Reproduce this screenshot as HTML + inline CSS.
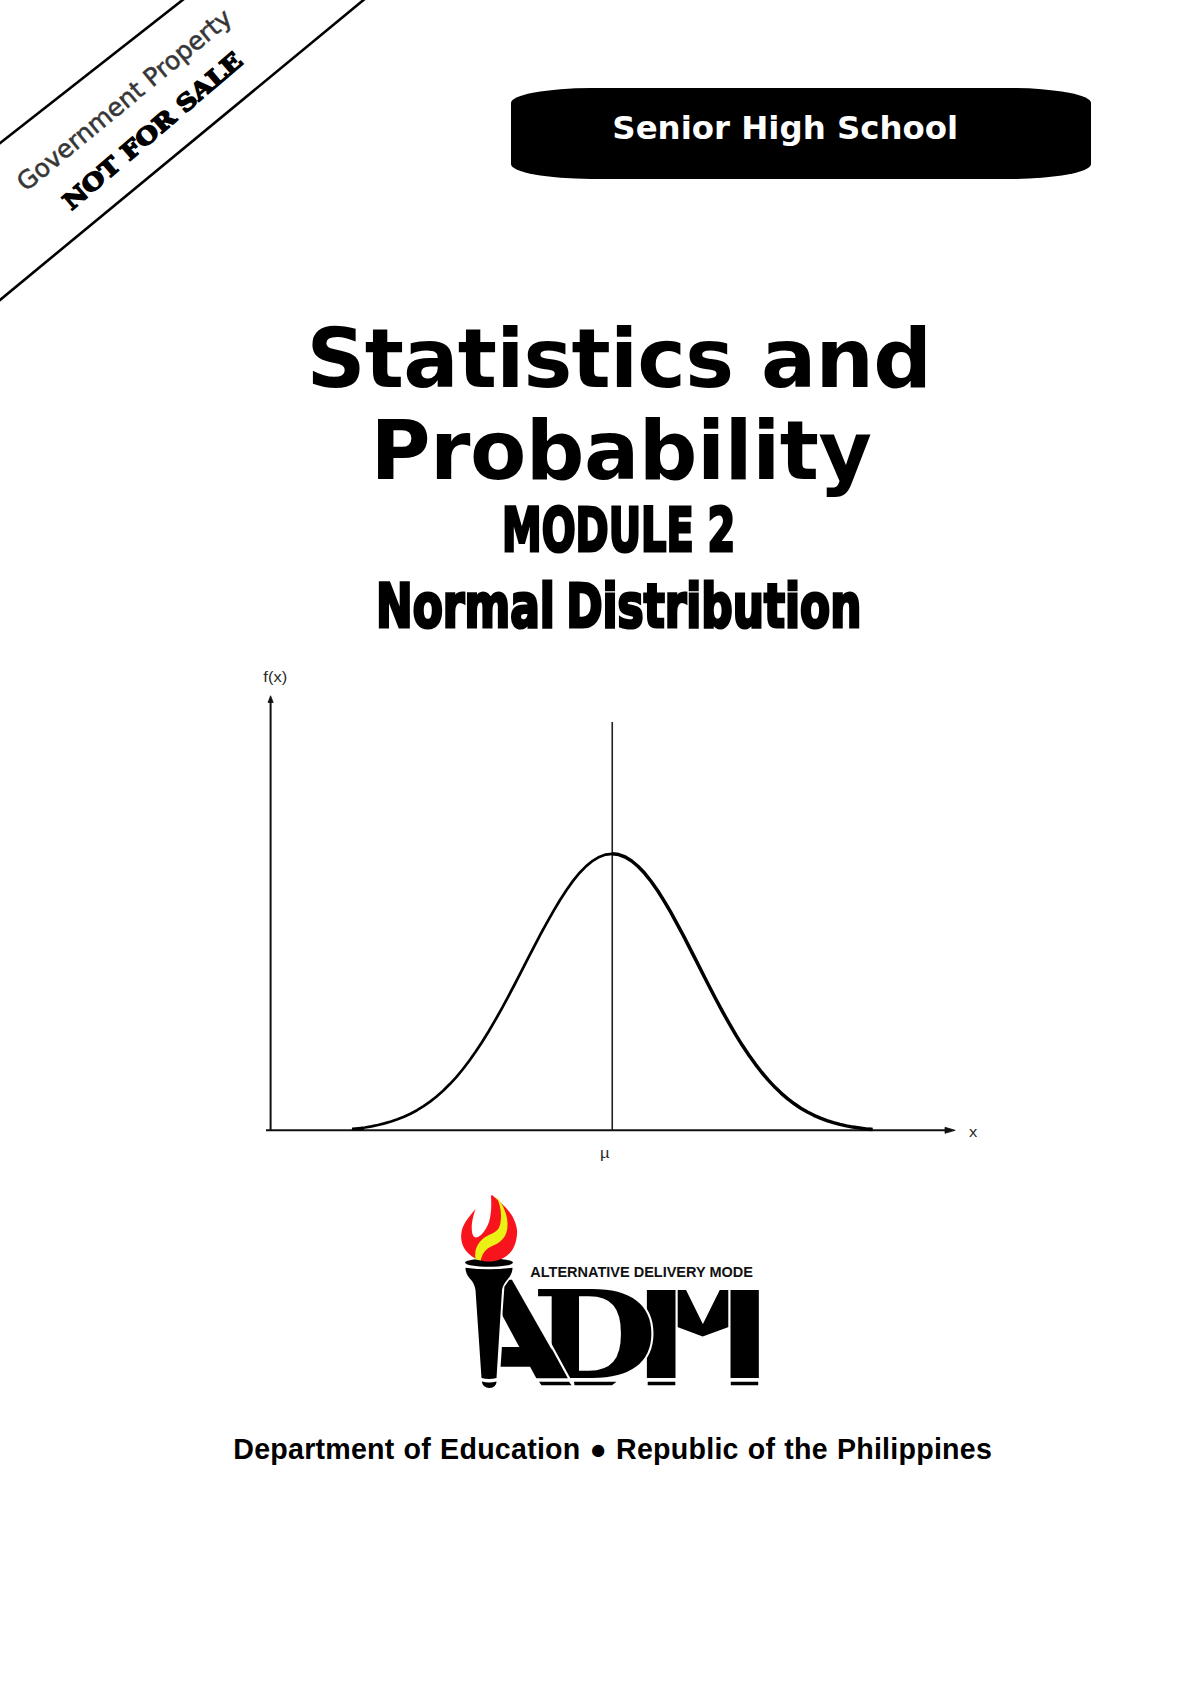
<!DOCTYPE html>
<html lang="en">
<head>
<meta charset="utf-8">
<title>Statistics and Probability - Module 2</title>
<style>
html,body{margin:0;padding:0;background:#fff;}
body{width:1200px;height:1698px;position:relative;overflow:hidden;font-family:"Liberation Sans",sans-serif;color:#000;}
.abs{position:absolute;white-space:nowrap;}
#bg{position:absolute;left:0;top:0;width:1200px;height:1698px;}
#pill{left:511px;top:87.5px;width:579.5px;height:91.2px;background:#000;border-radius:80px / 15px;}
#shs{left:612.3px;top:108.8px;font:bold 32.4px/38px "DejaVu Sans","Liberation Sans",sans-serif;color:#fff;}
.title{font:bold 82px/92px "DejaVu Sans","Liberation Sans",sans-serif;}
#t1{left:306.5px;top:313.3px;letter-spacing:-0.77px;}
#t2{left:370.4px;top:405.3px;letter-spacing:-0.5px;}
.imp{left:0;top:0;font:bold 56px/60px "DejaVu Sans","Liberation Sans",sans-serif;-webkit-text-stroke:3px #000;paint-order:stroke fill;transform-origin:0 0;}
#m1{transform:translate(502px,498.5px) scale(0.712,1.08);}
#m2{transform:translate(376px,574px) scale(0.7833,1.08);word-spacing:-5px;}
#dep{left:233.3px;top:1432.3px;font:bold 28.6px/34px "Liberation Sans",sans-serif;letter-spacing:0.24px;word-spacing:0.85px;}
</style>
</head>
<body>
<svg id="bg" viewBox="0 0 1200 1698" width="1200" height="1698">
  <!-- corner ribbon -->
  <line x1="-2" y1="144.6" x2="184.5" y2="-1.5" stroke="#000" stroke-width="2.6"/>
  <line x1="-2" y1="301.6" x2="365.3" y2="-1.5" stroke="#000" stroke-width="2.6"/>
  <text transform="translate(25.7,192.3) rotate(-39.5)" font-family="'DejaVu Sans','Liberation Sans',sans-serif" font-size="25" fill="#333" stroke="#444" stroke-width="0.6">Government Property</text>
  <text transform="translate(71.5,211) rotate(-40.6) scale(1.15,1)" font-family="'DejaVu Serif','Liberation Serif',serif" font-weight="bold" font-size="23" fill="#000" stroke="#000" stroke-width="1.5">NOT FOR SALE</text>

  <!-- chart -->
  <g id="chart" fill="none" stroke="#111">
    <line x1="270.6" y1="1131" x2="270.6" y2="699" stroke-width="2"/>
    <path d="M268 702.5 L273.2 702.5 L270.6 695.8 Z" fill="#111" stroke-width="0.8"/>
    <line x1="266" y1="1130.3" x2="948" y2="1130.3" stroke-width="1.9"/>
    <path d="M945 1127.3 L945 1133.3 L955.2 1130.3 Z" fill="#111" stroke-width="0.8"/>
    <line x1="612.25" y1="722" x2="612.25" y2="1130" stroke="#222" stroke-width="1.6"/>
    <path d="M352.0 1129.2 L358.5 1128.4 L365.0 1127.5 L371.5 1126.4 L378.0 1125.0 L384.5 1123.4 L391.0 1121.5 L397.5 1119.3 L404.0 1116.7 L410.5 1113.7 L417.1 1110.2 L423.6 1106.2 L430.1 1101.6 L436.6 1096.5 L443.1 1090.8 L449.6 1084.3 L456.1 1077.3 L462.6 1069.5 L469.1 1061.0 L475.6 1051.8 L482.1 1042.0 L488.6 1031.5 L495.1 1020.4 L501.6 1008.8 L508.1 996.8 L514.6 984.5 L521.1 971.9 L527.6 959.2 L534.1 946.6 L540.6 934.2 L547.2 922.1 L553.7 910.6 L560.2 899.7 L566.7 889.7 L573.2 880.6 L579.7 872.7 L586.2 866.1 L592.7 860.8 L599.2 856.9 L605.7 854.6 L612.2 853.8" stroke="#000" stroke-width="2.7" stroke-linejoin="round"/>
    <path d="M612.2 853.8 L618.7 854.6 L625.2 857.0 L631.7 861.0 L638.2 866.5 L644.7 873.3 L651.2 881.5 L657.7 890.8 L664.2 901.1 L670.7 912.2 L677.2 924.1 L683.8 936.4 L690.3 949.1 L696.8 961.9 L703.3 974.8 L709.8 987.5 L716.3 1000.0 L722.8 1012.1 L729.3 1023.7 L735.8 1034.8 L742.3 1045.3 L748.8 1055.0 L755.3 1064.1 L761.8 1072.5 L768.3 1080.1 L774.8 1087.1 L781.3 1093.3 L787.8 1098.9 L794.3 1103.8 L800.8 1108.2 L807.4 1112.0 L813.9 1115.3 L820.4 1118.1 L826.9 1120.6 L833.4 1122.6 L839.9 1124.4 L846.4 1125.9 L852.9 1127.1 L859.4 1128.1 L865.9 1129.0 L872.4 1129.6" stroke="#000" stroke-width="3.5" stroke-linejoin="round"/>
    <path d="M352 1129 L364 1129 M860 1129 L872.5 1129" stroke="#000" stroke-width="2.4"/>
  </g>
  <g font-family="'Liberation Sans',sans-serif" font-size="14.5" fill="#2a2a2a">
    <text transform="translate(263.3,682) scale(1.14,1)">f(x)</text>
    <text transform="translate(969,1136.7) scale(1.14,1)">x</text>
    <text transform="translate(600,1158.2) scale(1.14,1)">µ</text>
  </g>

  <!-- ADM logo -->
  <g id="logo">
    <ellipse cx="489" cy="1262.6" rx="24" ry="4.2" fill="#000"/>
    <path fill="#f8141c" d="M492 1195 C497 1199 506 1207 510 1212.75 C514 1218 517 1226 517.1 1231.5 C517.2 1240 514 1248 511.5 1251 C507 1257 500 1261 491 1261.5 C482 1262 474 1259 468 1253 C463 1248 460.5 1241 461.25 1234 C462 1225 468 1218 475.5 1209 C473 1216 471.5 1224 471.75 1228.5 C472 1234 473 1237.5 476 1237.5 C481 1237 486 1230 489 1222 C491.5 1214 491.5 1204 491 1196 Z"/>
    <path fill="#e9f115" d="M496.5 1197 C500 1200 504 1207 506.25 1215 C508 1221 508 1228 506.25 1233 C504 1239 499 1243 494.25 1245 C489 1247 485 1250 483 1254 C481.5 1257 481 1259 480.75 1260.5 L475.5 1259.5 C475 1256 475 1253 475.5 1251 C476.5 1246 480 1240.5 484.5 1237.5 C489 1234.5 495 1233 498 1229.25 C500.5 1226 501 1220 501 1215 C501 1209 499 1202 496.5 1197 Z"/>
    <path fill="#000" d="M465.5 1267.7 Q489 1270.7 512.5 1267.7 C512.6 1273.5 509 1278 505.5 1282 C503.5 1285 502.5 1287 502 1290 L496.5 1378 Q489 1380 481.5 1378 L475.5 1290 C475 1287 474 1284 472 1281 C468.5 1277 465.4 1273.5 465.5 1267.7 Z"/>
    <path fill="#000" d="M482 1381.5 Q489 1383.5 496.5 1381.5 C496.5 1385 494 1388 489.5 1388 C485 1388 482 1385 482 1381.5 Z"/>
    <text x="530.3" y="1277.2" font-family="'Liberation Sans',sans-serif" font-weight="bold" font-size="14.5" fill="#111">ALTERNATIVE DELIVERY MODE</text>
    <defs><clipPath id="acut"><path d="M510.5 1278 L504.4 1286.7 L502.6 1311.7 L501.8 1348.75 L499.8 1378.3 L600 1378.3 L600 1278 Z"/></clipPath></defs>
    <text transform="translate(641.3,1373) scale(1.1504,1)" font-family="'DejaVu Sans',sans-serif" font-weight="bold" font-size="107.7" fill="#000" stroke="#000" stroke-width="10" stroke-linejoin="miter" stroke-miterlimit="10">M</text>
    <path fill="#fff" d="M676 1326.4 L702.7 1336.6 L730 1326.4 L730 1381 L676 1381 Z"/>
    <path fill="none" stroke="#fff" stroke-width="2.2" d="M676.6 1287 V1380 M729.4 1287 V1380"/>
    <text transform="translate(531.2,1378.3) scale(1.198,1)" font-family="'DejaVu Serif',serif" font-weight="bold" font-size="121.5" fill="#000" stroke="#fff" stroke-width="3.4" paint-order="stroke">D</text>
    <g clip-path="url(#acut)"><text transform="translate(442.6,1386.3) skewX(8) scale(1.159,1)" font-family="'DejaVu Sans',sans-serif" font-weight="bold" font-size="145.8" fill="#000">A</text></g>
    <line x1="548.8" y1="1341" x2="573" y2="1385.5" stroke="#fff" stroke-width="2.2"/>
    <path fill="#000" d="M539 1381.7 H569 L571.5 1385.3 H541.5 Z M574 1381.7 H616.5 L612 1385.3 H574.5 Z M647.7 1381.7 H675.3 V1385.3 H647.7 Z M730.8 1381.7 H758.2 V1385.3 H730.8 Z"/>
  </g>
</svg>
<div class="abs" id="pill"></div>
<div class="abs" id="shs">Senior High School</div>
<div class="abs title" id="t1">Statistics and</div>
<div class="abs title" id="t2">Probability</div>
<div class="abs imp" id="m1">MODULE 2</div>
<div class="abs imp" id="m2">Normal Distribution</div>
<div class="abs" id="dep">Department of Education ● Republic of the Philippines</div>
</body>
</html>
